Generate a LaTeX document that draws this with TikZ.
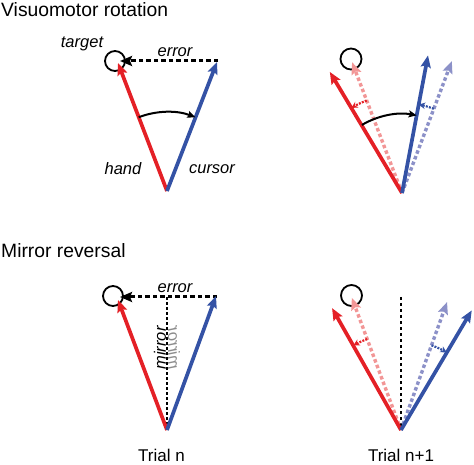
\documentclass[tikz,border=0pt]{standalone}
\usepackage{fontspec}
\setmainfont{Liberation Sans}
\usetikzlibrary{arrows.meta}
\definecolor{hred}{RGB}{228,32,38}
\definecolor{cblue}{RGB}{52,82,165}
\definecolor{lred}{RGB}{242,150,150}
\definecolor{lblue}{RGB}{140,145,200}
\definecolor{mgray}{RGB}{140,140,140}
\begin{document}
\begin{tikzpicture}[x=1pt,y=1pt,
  bigtip/.style={-{Stealth[length=12pt,width=10pt,inset=2pt]}},
  handarrow/.style={draw=hred,line width=3.7pt,bigtip},
  cursarrow/.style={draw=cblue,line width=3.7pt,bigtip},
  oldhand/.style={draw=lred,line width=3.4pt,dash pattern=on 3.5pt off 2.5pt,bigtip},
  oldcurs/.style={draw=lblue,line width=3.4pt,dash pattern=on 3.5pt off 2.5pt,bigtip},
  errline/.style={draw=black,line width=3pt,dash pattern=on 4.5pt off 3pt,bigtip},
  mirline/.style={draw=black,dash pattern=on 3pt off 2pt},
  rotarc/.style={draw=black,line width=2pt,-{Stealth[length=8pt,width=7pt,inset=1.5pt]}},
  stepred/.style={draw=hred,line width=2.2pt,dash pattern=on 2pt off 1.2pt,-{Stealth[length=6.5pt,width=6.5pt]}},
  stepblue/.style={draw=cblue,line width=2.2pt,dash pattern=on 2pt off 1.2pt,-{Stealth[length=6.5pt,width=6.5pt]}},
  targ/.style={circle,draw=black,line width=1.8pt,minimum size=20pt,inner sep=0pt},
  lab/.style={font=\fontsize{16.5}{18}\selectfont\itshape,inner sep=0pt},
  ttl/.style={font=\fontsize{19.3}{21}\selectfont,inner sep=0pt,anchor=base west},
  trl/.style={font=\fontsize{17}{19}\selectfont,inner sep=0pt,anchor=base}]
\useasboundingbox (0,0) rectangle (474,464);

% titles
\node[ttl] (t1) at (1,447) {Visuomotor rotation};
\node[ttl] (t2) at (1,206) {Mirror reversal};
\node[trl] (trn) at (161.5,3) {Trial n};
\node[trl] (trn1) at (401,3) {Trial n+1};

% ---------- panel 1 ----------
\coordinate (B1) at (167,273);
\node[targ] (T1) at (115,403) {};
\coordinate (R1) at (118,401);
\coordinate (C1) at (217,402);
\coordinate (E1a) at (218,403);
\coordinate (E1b) at (120,403);
\draw[errline] (E1a) -- (E1b);
\draw[handarrow] (B1) -- (R1);
\draw[cursarrow] (B1) -- (C1);
\draw[rotarc] (B1) ++(111:79) arc[start angle=111,end angle=69,radius=79];
\node[lab] (l1) at (82,420) {target};
\node[lab] (l2) at (175,412) {error};
\node[lab] (l3) at (123,295.5) {hand};
\node[lab] (l4) at (212,295) {cursor};

% ---------- panel 2 ----------
\coordinate (B2) at (402,271);
\node[targ,minimum size=21pt] (T2) at (351,405) {};
\draw[oldhand] (B2) -- ++(110.9:140) coordinate (P2);
\draw[oldcurs] (B2) -- ++(69.3:141) coordinate (L2);
\draw[handarrow] (B2) -- ++(120.8:141) coordinate (R2);
\draw[cursarrow] (B2) -- ++(79.3:140) coordinate (C2);
\draw[rotarc] (B2) ++(120.5:79) arc[start angle=120.5,end angle=79.3,radius=79];
\draw[stepred] (B2) ++(110.9:99) arc[start angle=110.9,end angle=120.8,radius=99];
\draw[stepblue] (B2) ++(69.3:90) arc[start angle=69.3,end angle=79.3,radius=90];

% ---------- panel 3 ----------
\coordinate (B3) at (167,34);
\node[targ] (T3) at (113,168) {};
\coordinate (R3) at (118,164);
\coordinate (C3) at (216,168);
\coordinate (E3a) at (217,167);
\coordinate (E3b) at (120,167);
\coordinate (M3) at (167,167);
\draw[mirline,line width=1.3pt] (M3) -- (B3);
\draw[errline] (E3a) -- (E3b);
\draw[handarrow] (B3) -- (R3);
\draw[cursarrow] (B3) -- (C3);
\node[lab] (l5) at (175,176) {error};
\node[lab,rotate=90] (l6) at (160,116) {mirror};
\node[lab,rotate=-90,text=mgray] (l7) at (174,116) {\reflectbox{mirror}};

% ---------- panel 4 ----------
\coordinate (B4) at (401,34);
\node[targ,minimum size=21pt] (T4) at (351.5,168.5) {};
\coordinate (M4) at (401,167);
\draw[mirline,line width=2.4pt,dash pattern=on 3.3pt off 2.7pt] (M4) -- (B4);
\draw[oldhand] (B4) -- ++(110.4:141) coordinate (P4);
\draw[oldcurs] (B4) -- ++(70.2:136) coordinate (L4);
\draw[handarrow] (B4) -- ++(119.5:140) coordinate (R4);
\draw[cursarrow] (B4) -- ++(59.4:139) coordinate (C4);
\draw[stepred] (B4) ++(110.4:97) arc[start angle=110.4,end angle=119.5,radius=97];
\draw[stepblue] (B4) ++(70.2:90) arc[start angle=70.2,end angle=59.4,radius=90];
\end{tikzpicture}
\end{document}
